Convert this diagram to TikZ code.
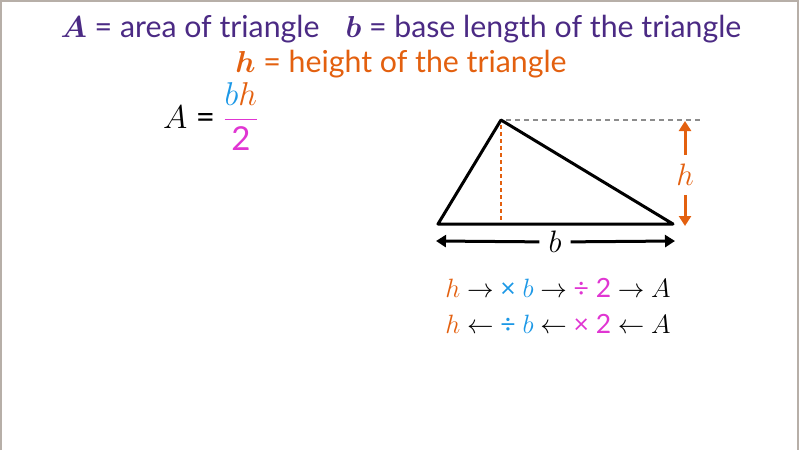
\RequirePackage{fix-cm}
\documentclass[tikz,border=0pt]{standalone}
\usepackage{amsmath}
\usepackage{bm}
\usepackage{fontspec}
\setmainfont{Lato}
\usetikzlibrary{arrows.meta,positioning}
\definecolor{keypurple}{HTML}{4B2A84}
\definecolor{hgtorange}{HTML}{E3600F}
\definecolor{baseblue}{HTML}{1C98E6}
\definecolor{twomagenta}{HTML}{E035D2}
\definecolor{framegrey}{HTML}{B7AFA8}
\definecolor{guidegrey}{HTML}{8C8C8C}

\begin{document}
\begin{tikzpicture}[x=1pt,y=-1pt]
\tikzset{txt/.style={inner sep=0pt,anchor=base},
  big/.style={txt,font=\fontsize{30.3}{36}\selectfont},
  small/.style={txt,font=\fontsize{26.5}{32}\selectfont},
  side/.style={line width=3pt,line join=round},
  halfdim/.style={line width=3pt,-{Triangle[length=10pt,width=12pt]},shorten <=3pt}}
\useasboundingbox (0,0) rectangle (800,450);
\draw[framegrey,line width=2pt] (1,450) -- (1,1) -- (798,1) -- (798,450);
\node[big,text=keypurple] (keyab) at (401,37) {$\bm{A}$ = area of triangle\hspace{0.6em} $\bm{b}$ = base length of the triangle};
\node[big,text=hgtorange] (keyh) at (401,72) {$\bm{h}$ = height of the triangle};
\node[txt,anchor=base west,font=\fontsize{33}{40}\selectfont] (formula) at (163,128) {$A$ = \color{twomagenta}$\dfrac{{\color{baseblue}b}{\color{hgtorange}h}}{\mbox{2}}$};
\coordinate (bl) at (438,224);
\coordinate (apex) at (501,120);
\coordinate (br) at (673,224);
\coordinate (foot) at (501,222);
\coordinate (topend) at (703,120);
\draw[guidegrey,line width=2pt,dash pattern=on 5pt off 4pt] ([xshift=5pt]apex) -- (topend);
\draw[hgtorange,line width=2pt,dash pattern=on 4pt off 3pt] ([yshift=-5pt]apex) -- (foot);
\draw[side] (bl) -- (apex) -- (br) -- cycle;
\node[txt,anchor=center,font=\fontsize{31}{36}\selectfont,text=hgtorange,inner sep=6pt] (hlab) at (685,175) {$h$};
\coordinate (htop) at (685,121);
\coordinate (hbot) at (685,226);
\draw[halfdim,hgtorange] (hlab) -- (htop);
\draw[halfdim,hgtorange] (hlab) -- (hbot);
\node[txt,anchor=center,font=\fontsize{31}{36}\selectfont,inner sep=6pt] (blab) at (555,242) {$b$};
\coordinate (bleft) at (436,241);
\coordinate (bright) at (675,241);
\draw[halfdim] (blab) -- (bleft);
\draw[halfdim] (blab) -- (bright);
\node[small] (forward) at (558,297) {{\color{hgtorange}$h$} $\rightarrow$ {\color{baseblue}× $b$} $\rightarrow$ {\color{twomagenta}÷ 2} $\rightarrow$ $A$};
\node[small] (backward) at (558,333) {{\color{hgtorange}$h$} $\leftarrow$ {\color{baseblue}÷ $b$} $\leftarrow$ {\color{twomagenta}× 2} $\leftarrow$ $A$};
\end{tikzpicture}
\end{document}
